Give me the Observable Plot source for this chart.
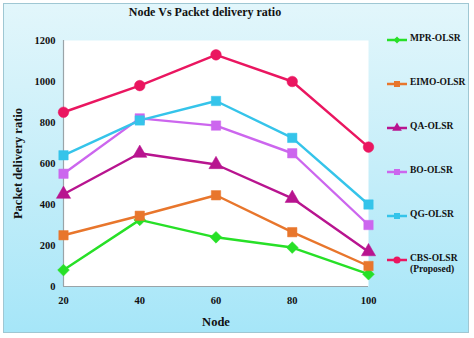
<!DOCTYPE html>
<html><head><meta charset="utf-8">
<script src="https://cdn.jsdelivr.net/npm/d3@7"></script>
<script src="https://cdn.jsdelivr.net/npm/@observablehq/plot@0.6"></script>
<style>
body{margin:0;background:#fff;}
#wrap{position:relative;width:474px;height:338px;overflow:hidden;}
#bg{position:absolute;left:3px;top:3px;width:466px;height:330px;border:1px solid #9fc7d3;background:linear-gradient(180deg,#e2f6fb 0%,#c6eef9 50%,#a6e6f8 100%);box-sizing:border-box;}
#plot{position:absolute;left:0;top:0;}
.t{position:absolute;font-family:"Times New Roman","Liberation Serif",Times,serif;font-weight:bold;color:#111;white-space:nowrap;}
</style></head>
<body><div id="wrap"><div id="bg"></div><div id="plot"></div>
<div class="t" style="left:0;width:410px;top:5px;text-align:center;font-size:12px;">Node Vs Packet delivery ratio</div>
<div id="legend"></div></div>
<script>
const nodes = [20, 40, 60, 80, 100];
const seriesNames = ["MPR-OLSR", "EIMO-OLSR", "QA-OLSR", "BO-OLSR", "QG-OLSR", "CBS-OLSR"];
const mpr  = [80, 325, 240, 190, 60];
const eimo = [250, 345, 445, 265, 100];
const qa   = [450, 650, 595, 430, 170];
const bo   = [550, 820, 785, 650, 300];
const qg   = [640, 810, 905, 725, 400];
const cbs  = [850, 980, 1130, 1000, 680];
const colors = ["#27e027", "#e8762c", "#b8148f", "#cc66ee", "#35c4ea", "#ea1660"];
const symbols = ["diamond2", "square", "triangle", "square", "square", "circle"];
const yTicks = [0, 200, 400, 600, 800, 1000, 1200];
const legendLabels = ["MPR-OLSR", "EIMO-OLSR", "QA-OLSR", "BO-OLSR", "QG-OLSR", "CBS-OLSR<br>(Proposed)"];

const all = [mpr, eimo, qa, bo, qg, cbs];
const data = [];
all.forEach((vals, i) => vals.forEach((v, j) => data.push({series: seriesNames[i], node: nodes[j], value: v})));

const chart = Plot.plot({
  width: 474, height: 338,
  marginLeft: 63, marginRight: 106, marginTop: 40, marginBottom: 52,
  style: {background: "transparent", fontFamily: "'Times New Roman','Liberation Serif',Times,serif", fontWeight: "bold", fontSize: "10.5px", color: "#111"},
  x: {domain: [20, 100]},
  y: {domain: [0, 1200]},
  color: {domain: seriesNames, range: colors},
  symbol: {domain: seriesNames, range: symbols},
  marks: [
    Plot.frame({fill: "white", stroke: null}),
    Plot.ruleX([20], {stroke: "#9aa4a8", strokeWidth: 1.2}),
    Plot.ruleY([0], {stroke: "#9aa4a8", strokeWidth: 1.2}),
    Plot.axisY({ticks: yTicks, tickFormat: d => String(d), tickSize: 0, tickPadding: 8, label: "Packet delivery ratio", labelAnchor: "center", labelArrow: "none", labelOffset: 50, fontSize: 10.5}),
    Plot.axisX({ticks: nodes, tickFormat: d => String(d), tickSize: 0, tickPadding: 10, label: "Node", labelAnchor: "center", labelArrow: "none", labelOffset: 39, fontSize: 10.5}),
    Plot.line(data, {x: "node", y: "value", z: "series", stroke: "series", strokeWidth: 2.4}),
    Plot.dot(data, {x: "node", y: "value", fill: "series", stroke: "series", strokeWidth: 0.5, symbol: "series", r: 5.3})
  ]
});
chart.querySelectorAll("[aria-label='y-axis label'] text, [aria-label='x-axis label'] text").forEach(t => t.setAttribute("font-size", "12.5"));
document.getElementById("plot").append(chart);

const lg = document.getElementById("legend");
const ly = [40, 84, 128, 172, 216, 260];
const symPath = {circle: d3.symbol(d3.symbolCircle, 40)(), square: d3.symbol(d3.symbolSquare, 36)(), triangle: d3.symbol(d3.symbolTriangle, 40)(), diamond2: d3.symbol(d3.symbolDiamond2, 30)()};
seriesNames.forEach((s, i) => {
  const d = document.createElement("div");
  d.style.position = "absolute"; d.style.left = "385px"; d.style.top = (ly[i] - 7) + "px";
  d.innerHTML = `<svg width="24" height="14" style="position:absolute;left:0;top:0"><line x1="2" x2="22" y1="7" y2="7" stroke="${colors[i]}" stroke-width="2.5"/><path d="${symPath[symbols[i]]}" transform="translate(12,7)" fill="${colors[i]}"/></svg><div class="t" style="left:25px;top:0px;font-size:9.5px;line-height:11px;">${legendLabels[i]}</div>`;
  lg.append(d);
});
</script></body></html>
